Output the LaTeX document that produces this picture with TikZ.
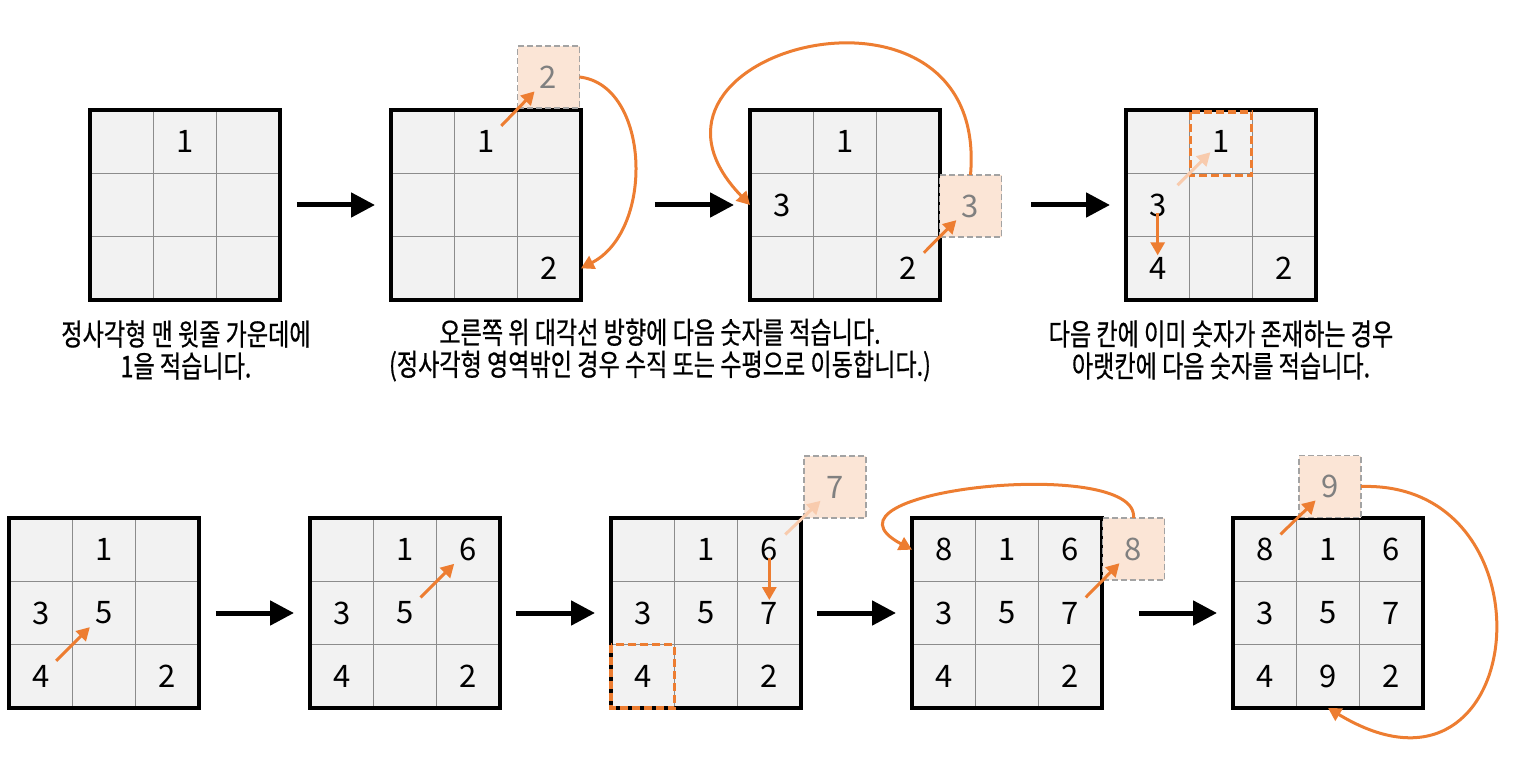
\documentclass[tikz,border=0pt]{standalone}
\usepackage{fontspec}
\setmainfont{Noto Sans CJK KR}
\newfontfamily\krfont[FakeStretch=0.77,FakeBold=0.6]{Noto Sans CJK KR}
\usetikzlibrary{arrows.meta}

\definecolor{mporange}{HTML}{ED7D31}
\definecolor{mppeach}{HTML}{F8CBAD}
\definecolor{mpghost}{HTML}{FBE5D6}
\definecolor{mpcell}{HTML}{F2F2F2}
\definecolor{mpline}{HTML}{8C8C8C}
\definecolor{mpgrey}{HTML}{808080}

\tikzset{
  cell/.style={draw=mpline, line width=1.5pt, minimum size=63.33pt, inner sep=0pt, outer sep=0pt, font=\fontsize{31}{31}\selectfont},
  frame/.style={line width=4pt},
  ghost/.style={draw=mpline!80, line width=1.5pt, dash pattern=on 6pt off 3pt, fill=mpghost, minimum size=62pt, inner sep=0pt, outer sep=0pt, text=mpgrey, font=\fontsize{31}{31}\selectfont},
  flow/.style={line width=5pt, -{Triangle[length=24pt,width=24pt]}, shorten >=16pt},
  hop/.style={draw=mporange, line width=3pt, -{Triangle[length=13pt,width=14pt]}, shorten <=22pt, shorten >=20pt},
  fadehop/.style={hop, draw=mppeach, shorten <=28pt, shorten >=15pt},
  drop/.style={hop, shorten <=8pt, shorten >=13pt},
  wrap/.style={draw=mporange, line width=3pt, -{Triangle[length=13pt,width=14pt]}},
  hilite/.style={draw=mporange, line width=3.5pt, dash pattern=on 8pt off 4pt},
  caption/.style={font=\krfont\fontsize{30}{32}\selectfont, align=center}
}

% name, left, top, nine entries
\newcommand{\magicsq}[4]{%
  \fill[mpcell] (#2,#3) rectangle ++(190,190);
  \foreach \val [count=\i from 0] in {#4} {
    \pgfmathtruncatemacro{\row}{int(\i/3)+1}
    \pgfmathtruncatemacro{\col}{mod(\i,3)+1}
    \node[cell] (#1-\row-\col) at ({#2+(\col-0.5)*63.33},{#3+(\row-0.5)*63.33}) {\val};
  }
  \draw[frame] (#1-1-1.north west) rectangle (#1-3-3.south east);
}

\begin{document}
\begin{tikzpicture}[x=1pt,y=-1pt]
\useasboundingbox (0,0) rectangle (1515,766);

% Top row of squares
\magicsq{g1}{90}{110}{ ,1, , , , , , , }
\magicsq{g2}{391}{110}{ ,1, , , , , , ,2}
\magicsq{g3}{750}{110}{ ,1, ,3, , , , ,2}
\magicsq{g4}{1126}{110}{ ,1, ,3, , ,4, ,2}

% Bottom row of squares
\magicsq{g5}{9}{518}{ ,1, ,3,5, ,4, ,2}
\magicsq{g6}{310}{518}{ ,1,6,3,5, ,4, ,2}
\magicsq{g7}{611}{518}{ ,1,6,3,5,7,4, ,2}
\magicsq{g8}{912}{518}{8,1,6,3,5,7,4, ,2}
\magicsq{g9}{1233}{518}{8,1,6,3,5,7,4,9,2}

% Cells outside the square
\node[ghost] (g2-ghost) at (548.5,77) {2};
\node[ghost] (g3-ghost) at (970.5,206) {3};
\node[ghost] (g7-ghost) at (835,487) {7};
\node[ghost] (g8-ghost) at (1133.5,549) {8};
\node[ghost] (g9-ghost) at (1330,486.5) {9};

% Occupied cells
\draw[hilite] ([xshift=1pt,yshift=-2pt]g4-1-2.north west) rectangle ([xshift=-1pt,yshift=-2pt]g4-1-2.south east);
\draw[hilite] (g7-3-1.north west) rectangle (g7-3-1.south east);

% Steps between squares
\draw[flow, shorten <=17pt] (g1-2-3.east) -- (g2-2-1.west);
\draw[flow, shorten <=74pt] (g2-2-3.east) -- (g3-2-1.west);
\draw[flow, shorten <=91pt] (g3-2-3.east) -- (g4-2-1.west);
\draw[flow, shorten <=17pt] (g5-2-3.east) -- (g6-2-1.west);
\draw[flow, shorten <=16pt] (g6-2-3.east) -- (g7-2-1.west);
\draw[flow, shorten <=16pt] (g7-2-3.east) -- (g8-2-1.west);
\draw[flow, shorten <=37pt] (g8-2-3.east) -- (g9-2-1.west);

% Moves inside each square
\draw[hop] (g2-1-2.center) -- (g2-ghost.center);
\draw[wrap] (g2-ghost.east) .. controls (650,85) and (655,230) .. (g2-3-3.east);
\draw[hop] (g3-3-3.center) -- (g3-ghost.center);
\draw[wrap] (g3-ghost.north) .. controls (990,-50) and (600,50) .. (g3-2-1.west);
\draw[fadehop] (g4-2-1.center) -- (g4-1-2.center);
\draw[drop] (g4-2-1.center) -- (g4-3-1.center);
\draw[hop] (g5-3-1.center) -- (g5-2-2.center);
\draw[hop] (g6-2-2.center) -- (g6-1-3.center);
\draw[fadehop, shorten <=22pt, shorten >=20pt] (g7-1-3.center) -- (g7-ghost.center);
\draw[drop] (g7-1-3.center) -- (g7-2-3.center);
\draw[hop] (g8-2-3.center) -- (g8-ghost.center);
\draw[wrap] (g8-ghost.north) .. controls (1140,455) and (800,490) .. (g8-1-1.west);
\draw[hop] (g9-1-1.center) -- (g9-ghost.center);
\draw[wrap] (g9-ghost.east) .. controls (1560,480) and (1530,830) .. (g9-3-2.south);

% Captions
\node[caption] (cap1) at (186,350) {정사각형 맨 윗줄 가운데에\\1을 적습니다.};
\node[caption] (cap2) at (660,350) {오른쪽 위 대각선 방향에 다음 숫자를 적습니다.\\(정사각형 영역밖인 경우 수직 또는 수평으로 이동합니다.)};
\node[caption] (cap3) at (1221,350) {다음 칸에 이미 숫자가 존재하는 경우\\아랫칸에 다음 숫자를 적습니다.};

\end{tikzpicture}
\end{document}
